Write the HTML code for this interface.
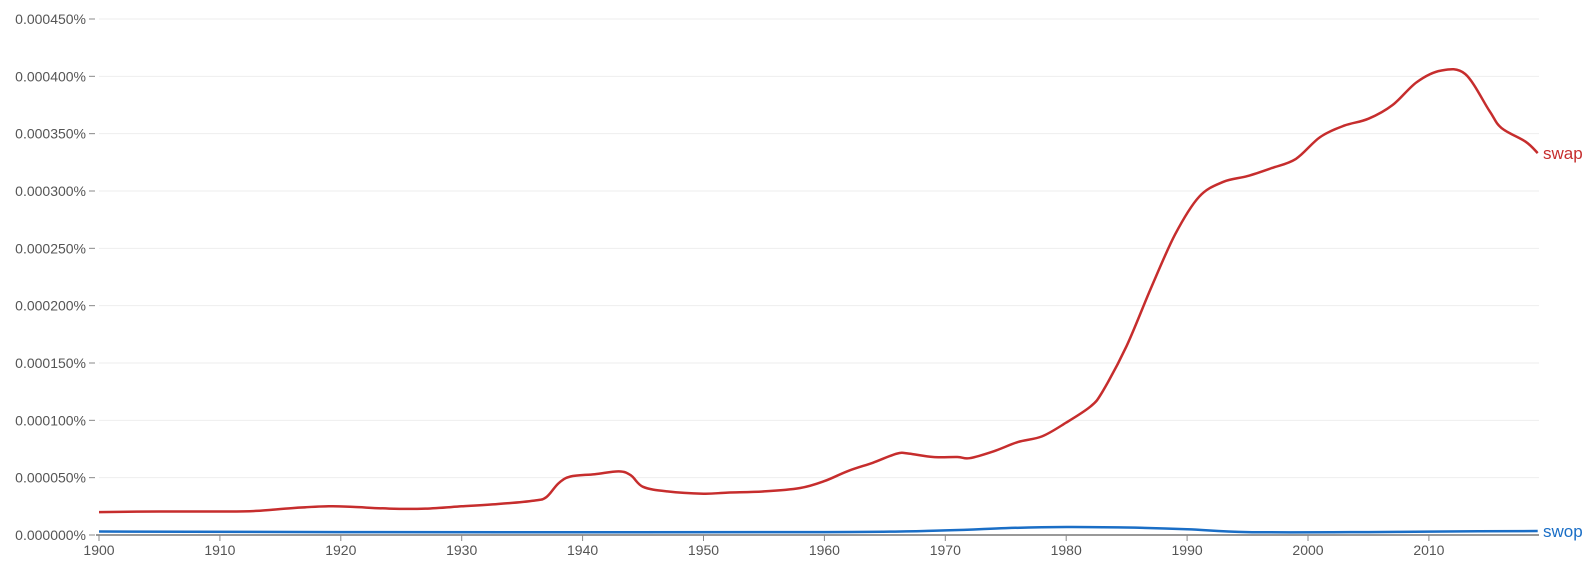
<!DOCTYPE html>
<html><head><meta charset="utf-8"><style>
body{margin:0;background:#fff}
svg text{font-family:"Liberation Sans",sans-serif;font-size:14px;fill:#555}
</style></head><body>
<svg width="1595" height="558" xmlns="http://www.w3.org/2000/svg">
<g id="g"></g>
</svg>
<script>
const X=y=>99+(y-1900)*12.09, Y=v=>535-v*1.1467;
let s='';
for(let i=0;i<=9;i++){const yy=Y(i*50);
 if(i>0)s+=`<line x1="99" x2="1539" y1="${yy}" y2="${yy}" stroke="#eee" stroke-width="1"/>`;
 s+=`<line x1="89" x2="95" y1="${yy}" y2="${yy}" stroke="#888"/>`;
 s+=`<text x="86" y="${yy+5}" text-anchor="end">${(i*0.00005).toFixed(6)}%</text>`;}
s+=`<line x1="96" x2="1539" y1="535" y2="535" stroke="#999" stroke-width="2"/>`;
for(let y=1900;y<=2010;y+=10){const x=X(y);s+=`<line x1="${x}" x2="${x}" y1="535" y2="541" stroke="#888"/><text x="${x}" y="555" text-anchor="middle">${y}</text>`;}
const red=[[1900,20],[1905,20.5],[1910,20.5],[1913,21],[1916,23.5],[1919,25],[1921,24.5],[1924,23],[1927,23],[1930,25],[1933,27],[1936,30],[1937,33],[1938,45],[1939,51],[1941,53],[1943,55.5],[1944,52],[1945,42],[1947,38],[1950,36],[1952,37],[1955,38],[1958,41],[1960,47],[1962,56],[1964,63],[1966,71],[1967,71],[1969,68],[1971,68],[1972,67],[1974,73],[1976,81],[1978,86],[1980,98],[1982,112],[1983,125],[1985,165],[1987,215],[1989,262],[1991,295],[1993,308],[1995,313],[1997,320],[1999,328],[2001,347],[2003,357],[2005,363],[2007,375],[2009,395],[2011,405],[2013,402],[2015,370],[2016,355],[2018,343],[2019,333]];
const blue=[[1900,3],[1920,2.5],[1960,2.5],[1970,4],[1975,6],[1980,7],[1985,6.5],[1990,5],[1995,2.5],[2005,2.5],[2010,3],[2019,3.5]];
function path(a){const p=a.map(q=>[X(q[0]),Y(q[1])]);let d=`M${p[0][0]},${p[0][1]}`;
 for(let i=0;i<p.length-1;i++){const p0=p[i-1]||p[i],p1=p[i],p2=p[i+1],p3=p[i+2]||p2;
  const c1=[p1[0]+(p2[0]-p0[0])/6,p1[1]+(p2[1]-p0[1])/6],c2=[p2[0]-(p3[0]-p1[0])/6,p2[1]-(p3[1]-p1[1])/6];
  d+=`C${c1[0].toFixed(1)},${c1[1].toFixed(1)} ${c2[0].toFixed(1)},${c2[1].toFixed(1)} ${p2[0].toFixed(1)},${p2[1].toFixed(1)}`;}
 return d;}
s+=`<path d="${path(blue)}" fill="none" stroke="#1a6ec6" stroke-width="2.5"/>`;
s+=`<path d="${path(red)}" fill="none" stroke="#c62d2d" stroke-width="2.5"/>`;
s+=`<text x="1543" y="${Y(333)+6}" style="fill:#c62d2d;font-size:17px">swap</text>`;
s+=`<text x="1543" y="${Y(3.5)+6}" style="fill:#1a6ec6;font-size:17px">swop</text>`;
document.getElementById('g').innerHTML=s;
</script>
</body></html>
